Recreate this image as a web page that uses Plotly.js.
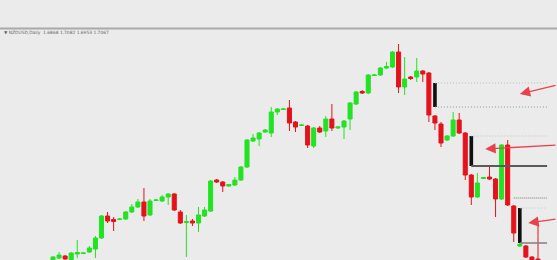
<!DOCTYPE html>
<html>
<head>
<meta charset="utf-8">
<script src="https://cdn.plot.ly/plotly-3.0.1.min.js"></script>
<style>html,body{margin:0;padding:0;background:#ebebeb;}#chart{width:557px;height:260px;}</style>
</head>
<body>
<div id="chart"></div>
<script>
// Bar index (0 = leftmost visible candle)
const barIndex = Array.from({length: 81}, (_, i) => i);
const openVals  = [-3,2,4,-1,6,6.5,8,11,22,44,40.5,40.5,41,48,53,58,45,59.5,59,63,66,48,37.5,39,37,44,49,80,78,74,75,80,93,119,121,128,127,148,150.5,152,138,134.5,134,114,132,129,141,132,133,141,156,168.5,167,184.5,185,192,193,208,173,183,183,189,187,144,136,120,124,140,127,85,63,81.5,83,81,61,115,54,14,14,3,1];
const highVals  = [4,8,5,8,20,8,14,24,45,48,43,42,49,56,61,72,61,61,65,67,67,50,45,41,53,53,80,81,79,76,83,94,121,126,128,131,153,152,152,160,139,136,135,133,134,144,156,134,140,158,169,170,186,186,193,198,209,216,203,184,202,190,188,145,138,125,148,147,128,86,87,83,93,82,116,120,55,17,15,4,36];
const lowVals   = [-5,1,0,-2,2,6,7,2,21,37,29,40,40,47,52,39,44,59,58,55,49,36,3,34,28,43,48,77,68,73,74,79,92,118,114,127,123,145,150,129,128,134,112,112,127,123,129,131,121,130,155,166,166,184,184,191,192,167,165,180,178,178,138,130,113,119,123,126,80,55,62,81,80,43,60,54,18,13,2,-6,-10];
const closeVals = [3,5,1,7,7.5,7,12,22,44,39,38.5,41,48,53,58,44,59,60,63,66,50,37,38.5,37,45,50,79,78,74,75.5,80,93,120,122,127,130,148,151,151,137,133,135,115,132,128,141,132,133,139,157,168,167,185,185,192,193.5,208,173,181,181.5,189,186,145,137,117,124,140,127,85,63,77,82.5,81,61,115,55,27,15.5,3,-3,-8];

// Marked zones (black bars) and their level lines
const zoneBar    = [63, 69, 77];
const zoneTop    = [177, 124, 52];
const zoneBottom = [153, 94, 17];
const zoneEnd    = 81.5;
const extraLevelBar = 76;
const extraLevel    = 62;

// Arrows: head position (bar, value) and tail offset in px
const arrowBar = [77, 71.3, 78.4];
const arrowVal = [166, 111, 37];
const arrowDX  = [38, 73, 30];
const arrowDY  = [-9, -4, -4];

const headerText = '\u25BC NZDUSD,Daily  1.6868 1.7082 1.6953 1.7067';

const candles = {
  type: 'candlestick',
  x: barIndex, open: openVals, high: highVals, low: lowVals, close: closeVals,
  increasing: {line: {color: '#22e322', width: 1}, fillcolor: '#22e322'},
  decreasing: {line: {color: '#e5121b', width: 1}, fillcolor: '#e5121b'},
  whiskerwidth: 0,
  hoverinfo: 'none',
  showlegend: false
};

const zones = {
  type: 'bar',
  x: zoneBar,
  y: zoneTop.map((t, i) => t - zoneBottom[i]),
  base: zoneBottom,
  width: 0.6,
  marker: {color: '#111111', line: {width: 0}},
  hoverinfo: 'none',
  showlegend: false
};

const shapes = [];
// header separator
shapes.push({type: 'line', xref: 'paper', yref: 'paper', x0: 0, x1: 1, y0: 1 - 28.5/260, y1: 1 - 28.5/260,
  line: {color: '#a9a9a9', width: 2}});
const topStyles = [
  {color: '#bdbdbd', width: 1, dash: '1px,2px'},
  {color: '#bdbdbd', width: 1, dash: '1px,2px'},
  {color: '#c4c4c4', width: 1, dash: '1px,2px'}
];
const botStyles = [
  {color: '#9a9a9a', width: 1, dash: '1px,2px'},
  {color: '#5a5a5a', width: 2, dash: 'solid'},
  {color: '#808080', width: 1.5, dash: 'solid'}
];
zoneBar.forEach((b, i) => {
  shapes.push({type: 'line', xref: 'x', yref: 'y', x0: b, x1: zoneEnd, y0: zoneTop[i], y1: zoneTop[i], line: topStyles[i]});
  shapes.push({type: 'line', xref: 'x', yref: 'y', x0: b, x1: zoneEnd, y0: zoneBottom[i], y1: zoneBottom[i], line: botStyles[i]});
});
shapes.push({type: 'line', xref: 'x', yref: 'y', x0: extraLevelBar, x1: zoneEnd, y0: extraLevel, y1: extraLevel,
  line: {color: '#7a7a7a', width: 1, dash: '1px,1px'}});

const annotations = arrowBar.map((b, i) => ({
  x: b, y: arrowVal[i], xref: 'x', yref: 'y', text: '',
  showarrow: true, arrowhead: 2, arrowsize: 1.6, arrowwidth: 1.3, arrowcolor: '#e8434b',
  ax: arrowDX[i], ay: arrowDY[i]
}));
annotations.push({
  xref: 'paper', yref: 'paper', x: 0.004, y: 1 - 32.5/260, xanchor: 'left', yanchor: 'middle',
  text: headerText, showarrow: false, font: {family: 'DejaVu Sans', size: 4.4, color: '#666666'}
});

const layout = {
  width: 557, height: 260,
  margin: {l: 0, r: 0, t: 0, b: 0, pad: 0},
  paper_bgcolor: '#ebebeb', plot_bgcolor: '#ebebeb',
  xaxis: {range: [-53/6.0625, (557-53)/6.0625], visible: false, rangeslider: {visible: false}, fixedrange: true},
  yaxis: {range: [0, 260], visible: false, fixedrange: true},
  boxgap: 0.05,
  shapes: shapes,
  annotations: annotations,
  barmode: 'overlay',
  showlegend: false
};

Plotly.newPlot('chart', [candles, zones], layout, {staticPlot: true, displayModeBar: false});
</script>
</body>
</html>
